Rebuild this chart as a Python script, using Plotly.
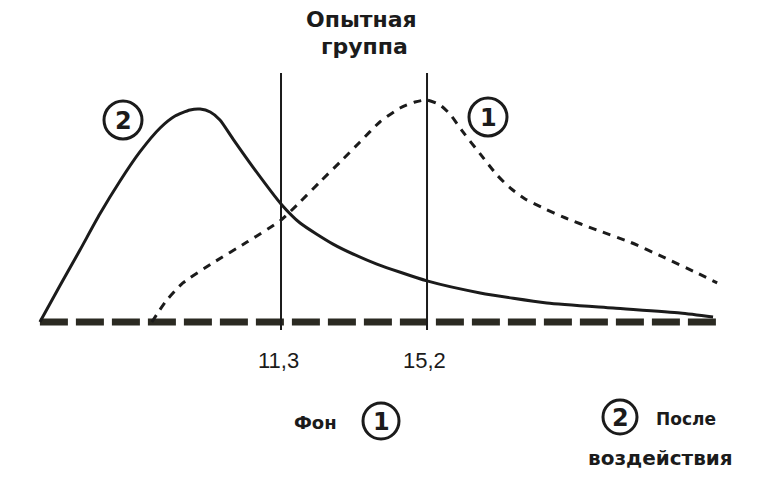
import plotly.graph_objects as go

# ---- data ----
after_x = [4.86, 5.39, 5.93, 6.46, 7.0, 7.53, 8.07, 8.47, 8.87, 9.14, 9.41, 9.67, 10.02,
           10.55, 11.3, 11.81, 12.69, 13.28, 13.86, 15.2, 16.62, 18.4, 20.17, 21.96, 22.84]
after_y = [0, 16.2, 32.4, 48.6, 63.5, 76.6, 87.4, 92.8, 95.5, 95.9, 94.6, 91.0, 82.4,
           69.8, 53.2, 44.6, 35.1, 30.2, 26.1, 18.5, 13.1, 8.6, 6.3, 4.1, 2.3]

background_x = [7.85, 8.06, 8.25, 8.68, 9.48, 10.39, 11.3, 11.81, 12.34, 12.88, 13.41,
                13.94, 14.48, 14.88, 15.2, 15.55, 15.81, 16.16, 16.62, 17.07, 17.42,
                17.82, 18.36, 18.83, 19.74, 20.62, 21.5, 22.41, 22.95]
background_y = [0, 5.4, 9.9, 17.6, 26.6, 36.0, 45.9, 54.1, 63.1, 72.1, 81.1,
                90.1, 96.4, 99.1, 100.0, 97.7, 93.7, 85.6, 75.7, 66.2, 60.4,
                55.4, 50.9, 47.3, 41.4, 36.0, 29.3, 22.1, 17.6]

axis_x = [4.86, 23.0]
axis_y = [0, 0]

marker_values = [11.3, 15.2]
tick_labels = ["11,3", "15,2"]
marker_top = 112.2
marker_bottom = -3.6

ink = "#1b1b1b"

fig = go.Figure()

# baseline (thick dashed)
fig.add_trace(go.Scatter(x=axis_x, y=axis_y, mode="lines",
                         line=dict(color="#2b2a22", width=7, dash="28px,8px"),
                         hoverinfo="skip", showlegend=False))

# vertical marker lines
for v in marker_values:
    fig.add_trace(go.Scatter(x=[v, v], y=[marker_bottom, marker_top], mode="lines",
                             line=dict(color=ink, width=2),
                             hoverinfo="skip", showlegend=False))

# curve 1: background (dashed)
fig.add_trace(go.Scatter(x=background_x, y=background_y, mode="lines",
                         line=dict(color=ink, width=3, dash="8px,7px", shape="spline", smoothing=0.6),
                         name="Фон", showlegend=False))

# curve 2: after exposure (solid)
fig.add_trace(go.Scatter(x=after_x, y=after_y, mode="lines",
                         line=dict(color=ink, width=3, shape="spline", smoothing=0.6),
                         name="После воздействия", showlegend=False))

# the page puts the figure at an 8px offset; size it so it fills the window
OFF = 8
W, H = 760 - OFF, 480 - OFF


def px(xp, yp):
    return (xp - OFF) / W, 1 - (yp - OFF) / H


annotations = []


def text(t, xp, yp, size, family="DejaVu Sans", bold=False, xanchor="center"):
    x, y = px(xp, yp)
    annotations.append(dict(text=("<b>%s</b>" % t) if bold else t, x=x, y=y,
                            xref="paper", yref="paper", showarrow=False,
                            xanchor=xanchor, yanchor="middle",
                            font=dict(family=family, size=size, color=ink)))


shapes = []


def circle(num, xp, yp, d=36):
    x, y = px(xp, yp)
    shapes.append(dict(type="circle", xref="paper", yref="paper",
                       x0=x - d / 2 / W, x1=x + d / 2 / W,
                       y0=y - d / 2 / H, y1=y + d / 2 / H,
                       line=dict(color=ink, width=3)))
    text(num, xp, yp + 1, 24, family="DejaVu Sans", bold=True)


# header
text("Опытная", 361, 19, 22, bold=True)
text("группа", 364, 46, 22, bold=True)

# tick labels under the marker lines
for v, lab in zip(marker_values, tick_labels):
    annotations.append(dict(text=lab, x=v, y=0, xref="x", yref="y",
                            showarrow=False, xanchor="center", yanchor="middle",
                            yshift=-38, xshift=-3,
                            font=dict(family="Liberation Sans", size=22, color=ink)))

# curve labels
circle("2", 123, 120, d=38)
circle("1", 488, 117, d=38)

# legend-like captions
text("Фон", 315, 422, 18, bold=True)
circle("1", 381, 421)
circle("2", 620, 417, d=34)
text("После", 686, 419, 17, bold=True)
text("воздействия", 660, 458, 20, bold=True)

fig.update_layout(
    width=W, height=H,
    margin=dict(l=0, r=0, t=0, b=0),
    paper_bgcolor="white", plot_bgcolor="white",
    xaxis=dict(range=[4.008, 24.094], visible=False, fixedrange=True),
    yaxis=dict(range=[-71.17, 141.44], visible=False, fixedrange=True),
    annotations=annotations, shapes=shapes,
    showlegend=False,
)

fig.write_html("out.html")
